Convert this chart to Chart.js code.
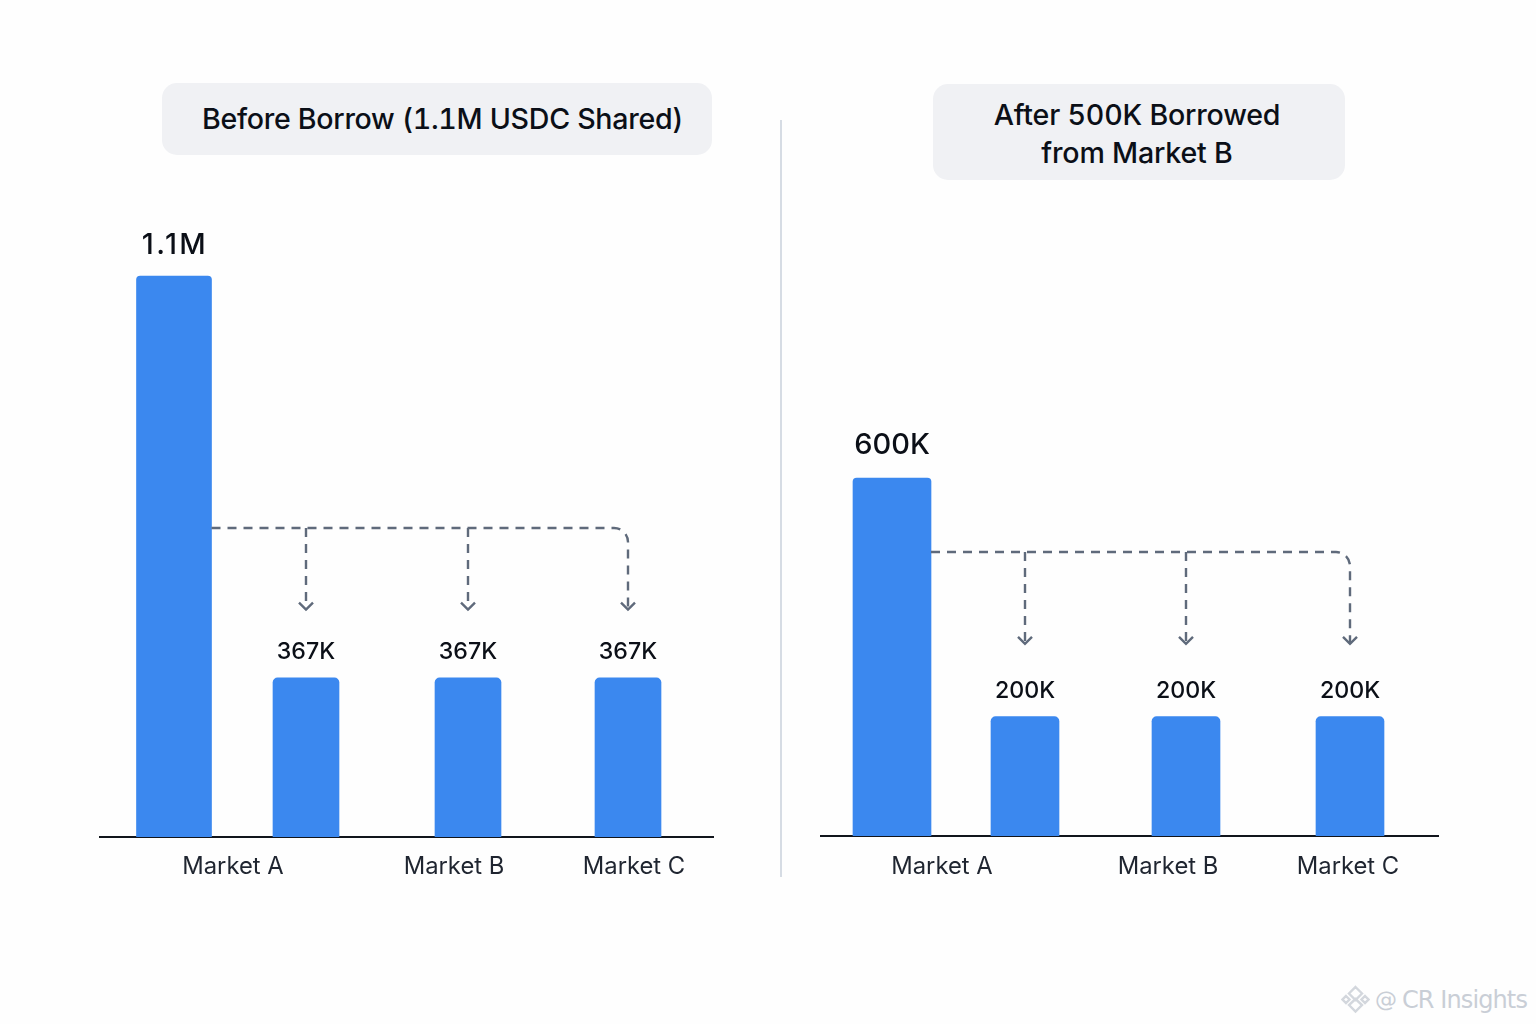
<!DOCTYPE html>
<html>
<head>
<meta charset="utf-8">
<title>Shared liquidity before and after borrow</title>
<script src="https://cdn.jsdelivr.net/npm/chart.js@4/dist/chart.umd.min.js"></script>
<style>
  html, body { margin: 0; padding: 0; background: #fefefe; }
  body { position: relative; width: 1536px; height: 1024px; overflow: hidden; font-family: Inter, sans-serif; color: #0b0f17; }
  canvas { position: absolute; }
  .title { position: absolute; background: #f0f1f4; border-radius: 15px; box-sizing: border-box; font-size: 28.6px; font-weight: 500; font-variant-numeric: tabular-nums; }
  #titleLeft { left: 162px; top: 83px; width: 550px; height: 72px; line-height: 71px; padding-left: 40px; white-space: nowrap; letter-spacing: -0.3px; }
  #titleRight { left: 933px; top: 84px; width: 412px; height: 96px; line-height: 38px; padding-top: 12px; padding-right: 4px; text-align: center; letter-spacing: -0.2px; }
  #divider { position: absolute; left: 780px; top: 120px; width: 2px; height: 757px; background: #d6dce4; }
  #mark { position: absolute; left: 1341px; top: 985px; display: flex; align-items: center; color: #c9ced6; font: 24px "DejaVu Sans", sans-serif; white-space: nowrap; }
  #mark svg { margin-right: 5px; }
</style>
</head>
<body>
<div class="title" id="titleLeft">Before Borrow (1.1M USDC Shared)</div>
<div class="title" id="titleRight">After 500K Borrowed<br>from Market B</div>
<div id="divider"></div>
<canvas id="chartBefore" width="615" height="700" style="left:99px;top:200px"></canvas>
<canvas id="chartAfter" width="619" height="700" style="left:820px;top:200px"></canvas>
<div id="mark">
  <svg width="29" height="29" viewBox="0 0 29 29" fill="none" stroke="#d3d7dd" stroke-width="2.4">
    <path d="M14.5 2 L21 8.5 L14.5 15 L8 8.5 Z M5 11 L8.5 14.5 L5 18 L1.5 14.5 Z M24 11 L27.5 14.5 L24 18 L20.5 14.5 Z M8 20 L14.5 26.5 L21 20 L14.5 14 Z"/>
  </svg>
  <span style="font-size:22px;margin-right:5px">@</span><span style="letter-spacing:-0.9px">CR Insights</span>
</div>

<script>
// Data
const categories = ['Market A', 'Market B', 'Market C'];

// The left small bars are labelled 367K but are drawn shorter than that against
// the 1.1M bar, so the heights below are what the picture shows, not the labels.
const beforeMain = [1100];
const beforeShares = [312, 312, 312];
const beforeLabels = ['1.1M', '367K', '367K', '367K'];

const afterMain = [600];
const afterShares = [200, 200, 200];
const afterLabels = ['600K', '200K', '200K', '200K'];

// Layout: the x axis of each chart runs in canvas pixels
const beforeBarCentres = [75, 207, 369, 529];
const beforeTickCentres = [134, 355, 535];
const afterBarCentres = [72, 205, 366, 530];
const afterTickCentres = [122, 348, 528];

const BLUE = '#3b88ef';
const DASH = '#5f6a7b';

// Puts the value text over the bars and draws the dashed flow with its arrows
const marketNotes = {
  id: 'marketNotes',
  afterDatasetsDraw(chart, args, opts) {
    const ctx = chart.ctx;
    const ys = chart.scales.y;

    // value text
    ctx.save();
    ctx.fillStyle = '#0b0f17';
    ctx.textAlign = 'center';
    ctx.textBaseline = 'middle';
    const bars = opts.centres.map((c, i) => {
      const ds = i === 0 ? 0 : 1;
      const idx = i === 0 ? 0 : i - 1;
      return chart.getDatasetMeta(ds).data[idx];
    });
    bars.forEach((bar, i) => {
      ctx.font = '500 ' + (i === 0 ? 29 : 23.2) + 'px Inter, sans-serif';
      // Inter closes up "1.1" a lot, open it back out
      const wide = opts.labels[i] === '1.1M';
      ctx.letterSpacing = wide ? '2.4px' : '0px';
      ctx.fillText(opts.labels[i], bar.x + (wide ? 1 : 0), bar.y - (wide ? 31 : i === 0 ? 33 : 26));
    });
    ctx.restore();

    // dashed flow, from the edge of the big bar over to each small bar
    const startX = bars[0].x + bars[0].width / 2;
    const levelY = ys.getPixelForValue(opts.level);
    const endY = ys.getPixelForValue(opts.arrowTo);
    const lastX = bars[3].x;
    const r = 14;

    ctx.save();
    ctx.strokeStyle = DASH;
    ctx.lineWidth = 2.4;
    ctx.setLineDash([9, 7]);
    ctx.beginPath();
    ctx.moveTo(startX, levelY);
    ctx.lineTo(lastX - r, levelY);
    ctx.arcTo(lastX, levelY, lastX, levelY + r, r);
    ctx.lineTo(lastX, endY);
    [bars[1], bars[2]].forEach(bar => {
      ctx.moveTo(bar.x, levelY);
      ctx.lineTo(bar.x, endY);
    });
    ctx.stroke();

    // arrow heads
    ctx.setLineDash([]);
    ctx.beginPath();
    bars.slice(1).forEach(bar => {
      ctx.moveTo(bar.x - 7, endY - 7);
      ctx.lineTo(bar.x, endY);
      ctx.lineTo(bar.x + 7, endY - 7);
    });
    ctx.stroke();
    ctx.restore();
  }
};

function drawMarketChart(id, main, shares, labels, centres, tickCentres, opts) {
  const canvas = document.getElementById(id);
  return new Chart(canvas, {
    type: 'bar',
    data: {
      datasets: [
        {
          data: main.map((v, i) => ({ x: centres[i], y: v })),
          backgroundColor: BLUE,
          barThickness: opts.mainWidth,
          borderRadius: { topLeft: 4, topRight: 4 }
        },
        {
          data: shares.map((v, i) => ({ x: centres[i + 1], y: v })),
          backgroundColor: BLUE,
          barThickness: opts.shareWidth,
          borderRadius: { topLeft: 5, topRight: 5 }
        }
      ]
    },
    options: {
      responsive: false,
      animation: false,
      grouped: false,
      layout: { padding: 0 },
      plugins: {
        legend: { display: false },
        tooltip: { enabled: false },
        marketNotes: { labels, centres, level: opts.level, arrowTo: opts.arrowTo }
      },
      scales: {
        x: {
          type: 'linear',
          offset: false,
          min: 0,
          max: canvas.width,
          grid: { display: false, drawTicks: false },
          border: { color: '#11151c', width: 2 },
          afterBuildTicks: scale => { scale.ticks = tickCentres.map(v => ({ value: v })); },
          afterFit: scale => { scale.height = canvas.height - opts.plotHeight; },
          ticks: {
            autoSkip: false,
            maxRotation: 0,
            padding: opts.tickPadding,
            color: '#1f2530',
            font: { family: 'Inter, sans-serif', size: 23.8 },
            callback: (value, i) => categories[i]
          }
        },
        y: {
          display: false,
          min: 0,
          max: opts.yMax
        }
      }
    },
    plugins: [marketNotes]
  });
}

drawMarketChart('chartBefore', beforeMain, beforeShares, beforeLabels, beforeBarCentres, beforeTickCentres, {
  mainWidth: 75, shareWidth: 66, plotHeight: 637, yMax: 1249, level: 606, arrowTo: 446, tickPadding: 16
});

drawMarketChart('chartAfter', afterMain, afterShares, afterLabels, afterBarCentres, afterTickCentres, {
  mainWidth: 78, shareWidth: 68, plotHeight: 636, yMax: 1066, level: 476, arrowTo: 322, tickPadding: 17
});
</script>
</body>
</html>
